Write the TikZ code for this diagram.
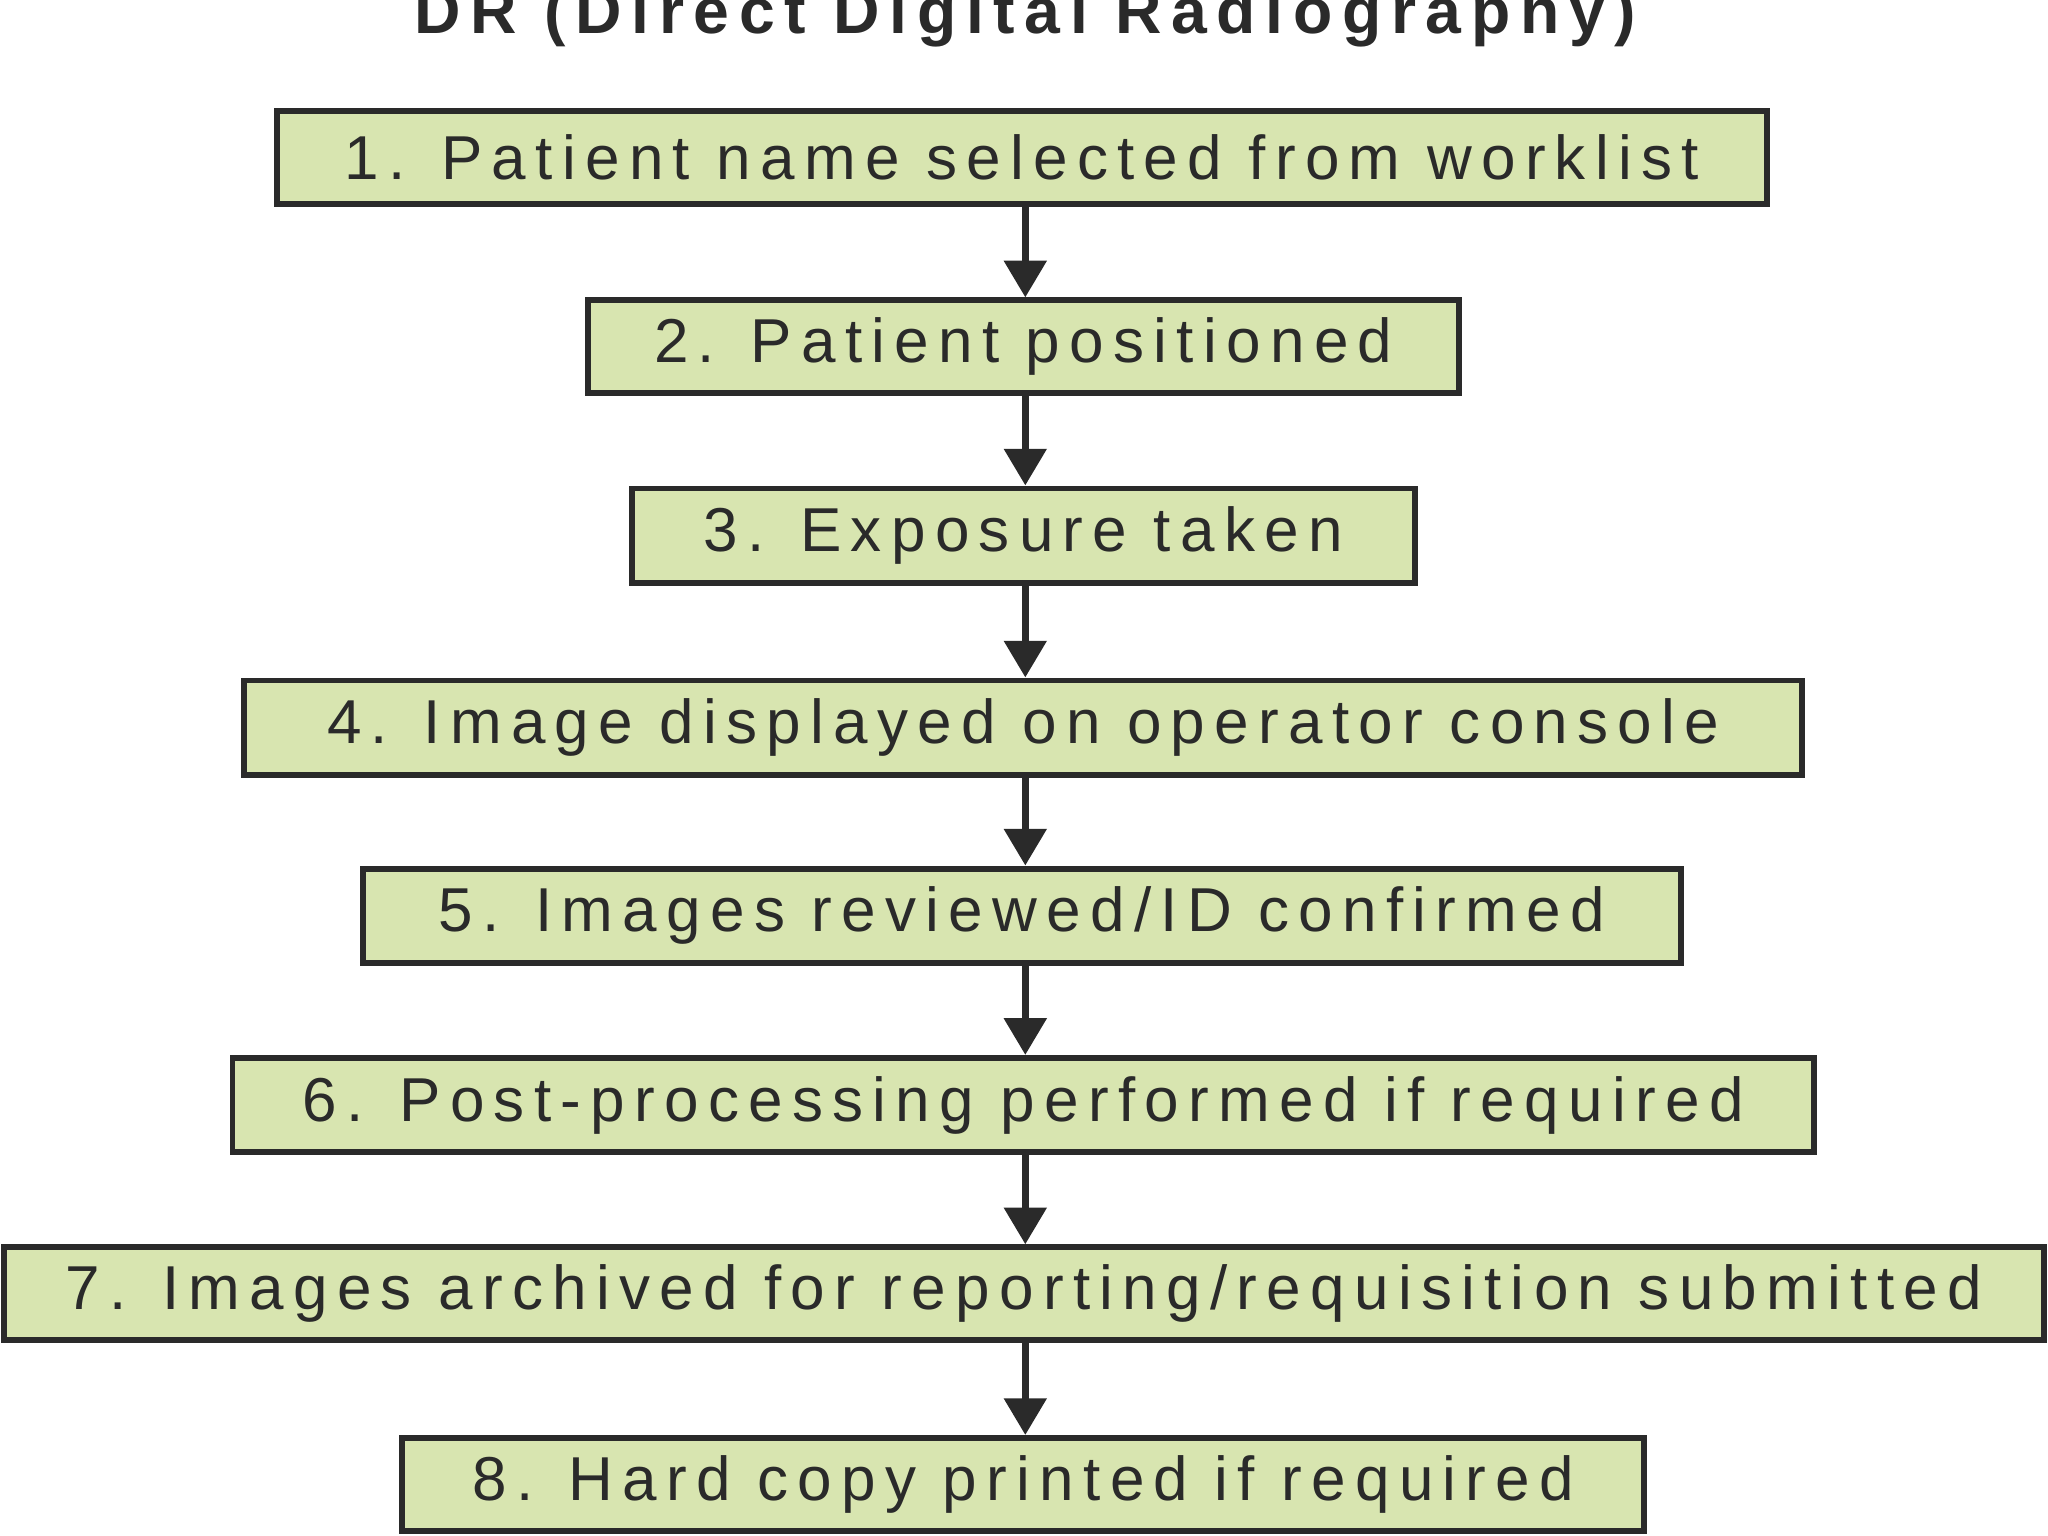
\documentclass[tikz,border=0pt]{standalone}
\usepackage{fontspec}
\setmainfont[LetterSpace=15]{Liberation Sans}
\usetikzlibrary{arrows.meta}
\definecolor{boxfill}{HTML}{D8E5B0}
\definecolor{ink}{HTML}{2A2A2A}
\tikzset{
 stepbox/.style={draw=ink,line width=1.3pt,fill=boxfill,inner sep=0pt,font=\fontsize{13.5}{15}\selectfont,text=ink},
 flow/.style={draw=ink,line width=1.6pt,-{Triangle[length=8pt,width=9pt]}}
}
\begin{document}
\begin{tikzpicture}[x=0.01cm,y=-0.01cm]
\useasboundingbox (0,0) rectangle (1568,1176);
\begin{scope}
\clip (0,0) rectangle (1568,1176);
\node[font=\bfseries\fontsize{14}{16}\selectfont,text=ink] (t) at (785,13) {DR (Direct Digital Radiography)};
\end{scope}
\newcommand{\bx}[6]{\node[stepbox,minimum width={(#3-#2)*0.01cm},minimum height={(#5-#4)*0.01cm}] (#1) at ({(#2+#3)/2},{(#4+#5)/2}) {#6};}
\bx{b1}{212}{1353}{85}{156}{1. Patient name selected from worklist}
\bx{b2}{450}{1117}{230}{301}{2. Patient positioned}
\bx{b3}{484}{1083}{374}{446}{3. Exposure taken}
\bx{b4}{187}{1380}{521}{593}{4. Image displayed on operator console}
\bx{b5}{278}{1287}{665}{737}{5. Images reviewed/ID confirmed}
\bx{b6}{178}{1389}{810}{882}{6. Post-processing performed if required}
\bx{b7}{3}{1565}{955}{1026}{7. Images archived for reporting/requisition submitted}
\bx{b8}{308}{1259}{1101}{1172}{8. Hard copy printed if required}
\foreach \a/\b in {b1/b2,b2/b3,b3/b4,b4/b5,b5/b6,b6/b7,b7/b8}
 \draw[flow] (\a.south -| 785,0) -- (\b.north -| 785,0);
\end{tikzpicture}
\end{document}
